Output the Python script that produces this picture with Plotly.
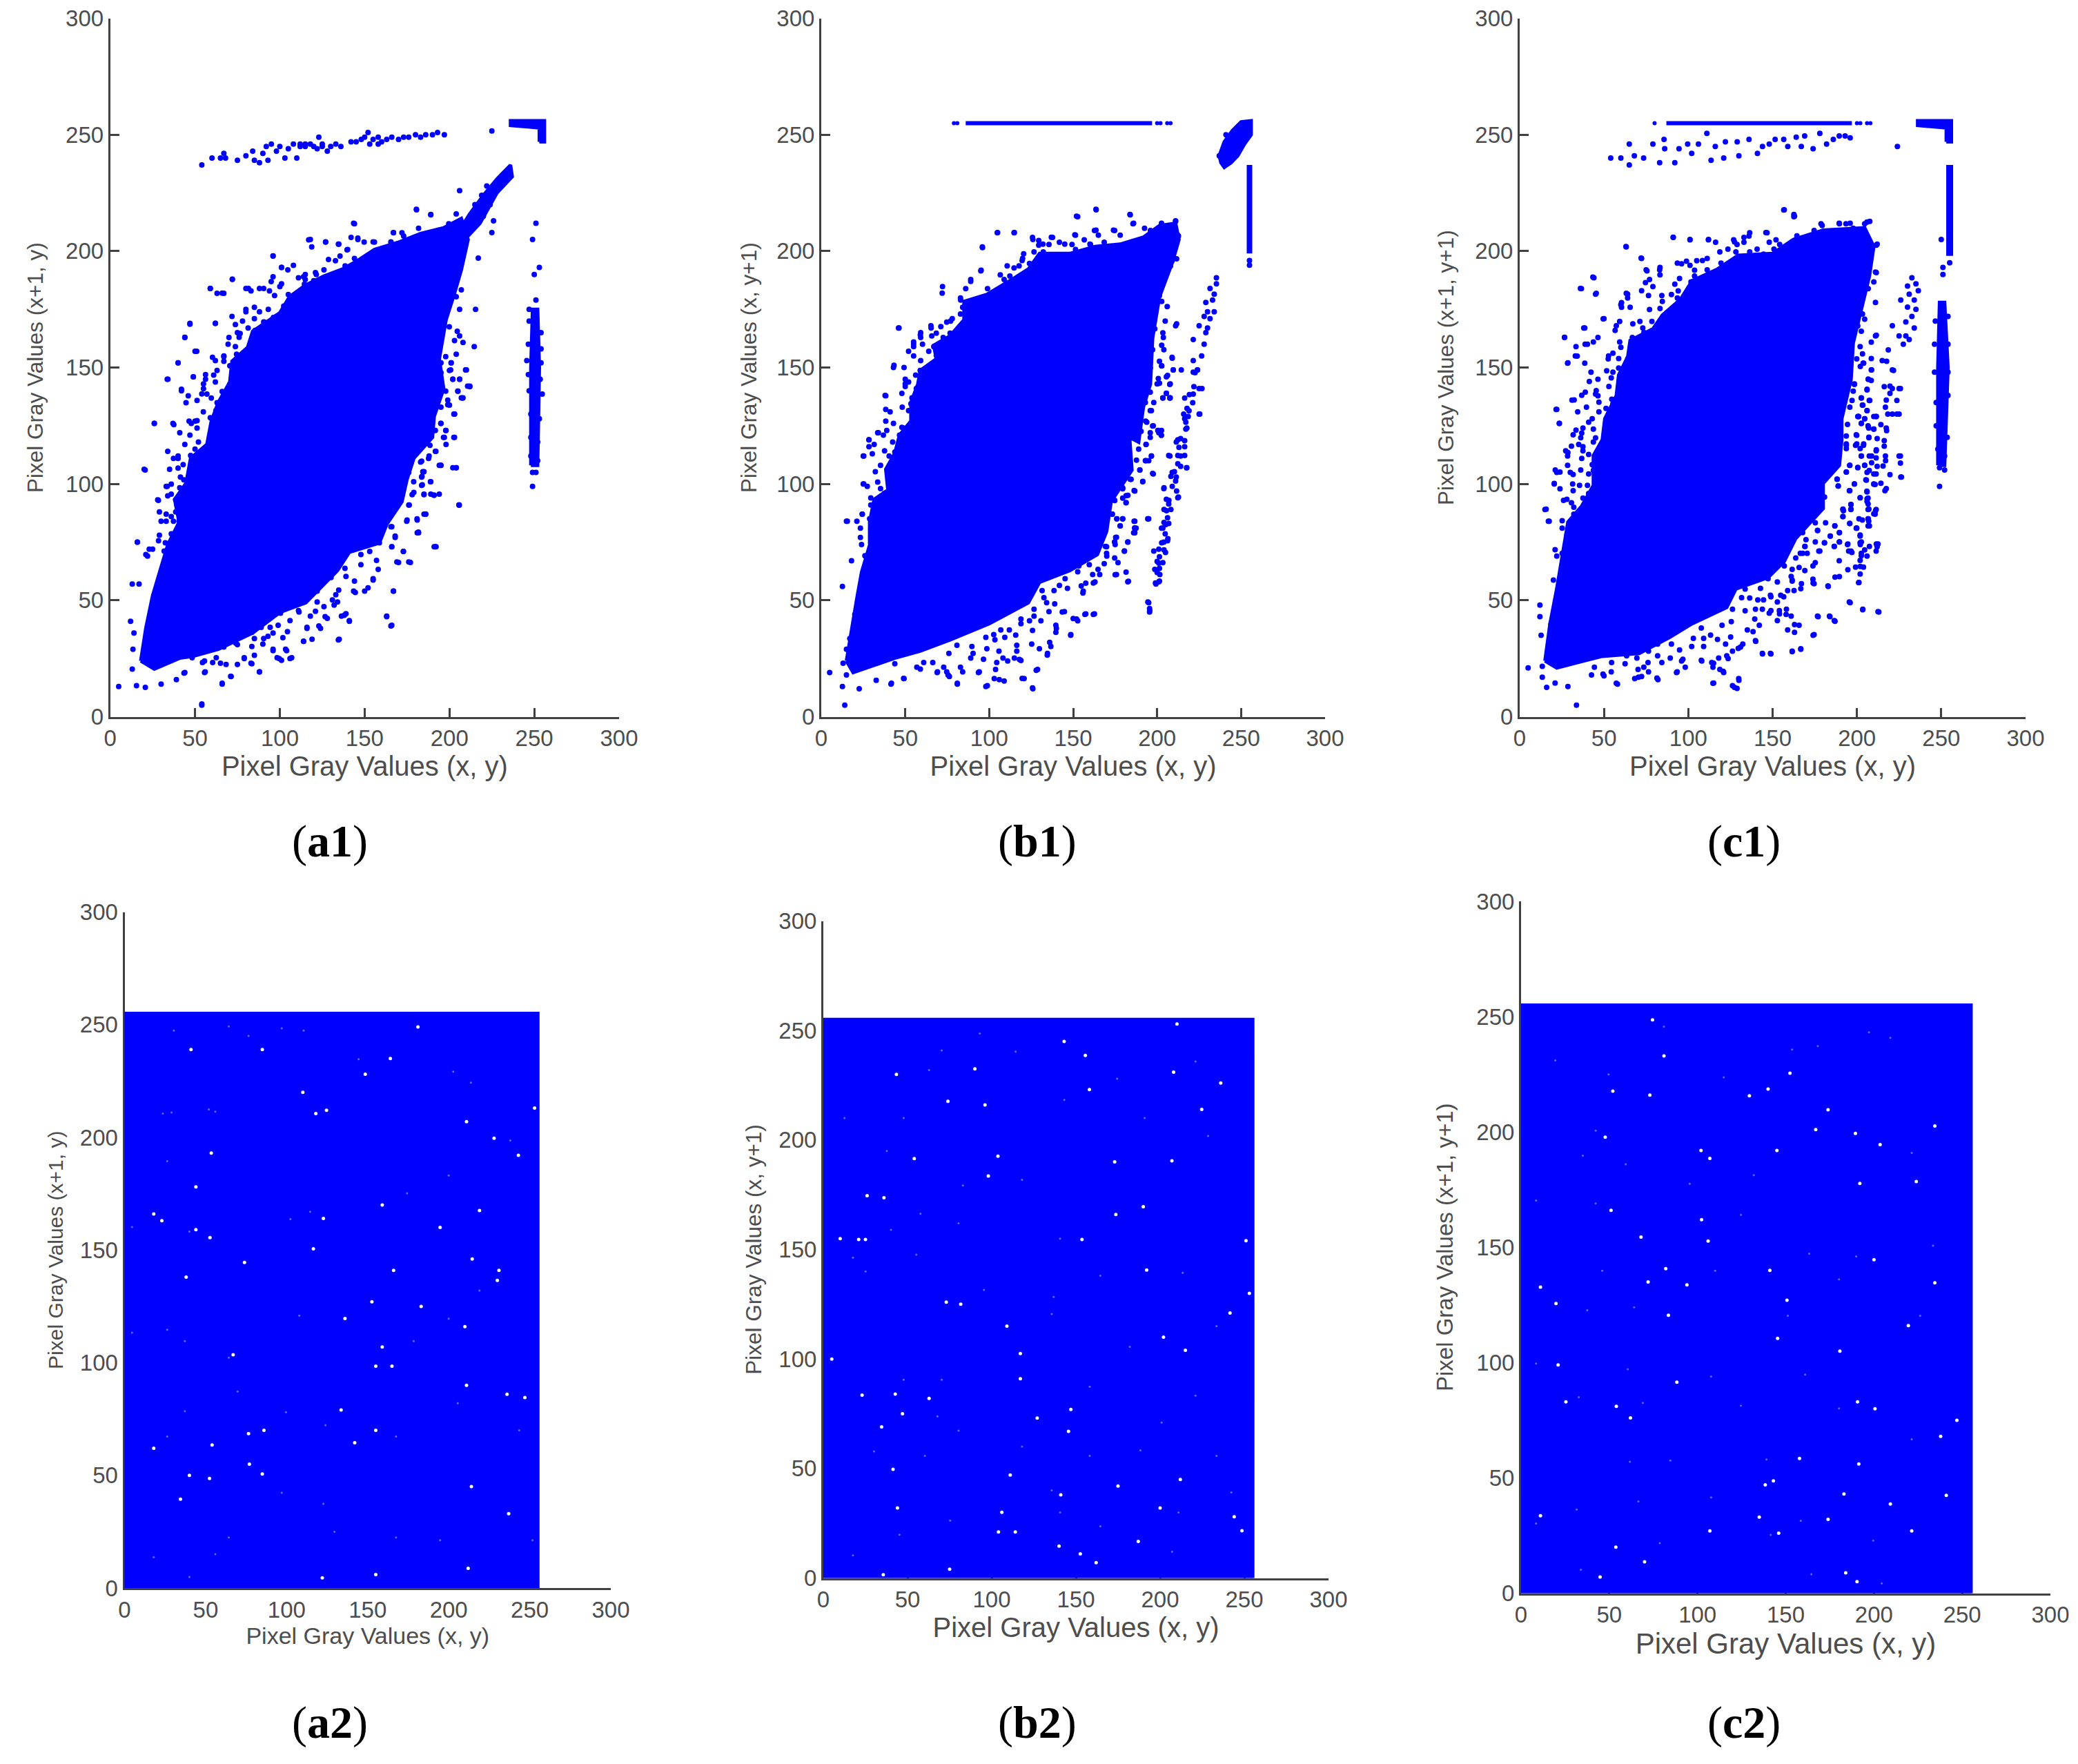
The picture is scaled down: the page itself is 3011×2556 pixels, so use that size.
import plotly.graph_objects as go

# ---------- tick labels ----------
tick_values = [0, 50, 100, 150, 200, 250, 300]
x_title = "Pixel Gray Values (x, y)"
y_titles = ["Pixel Gray Values (x+1, y)", "Pixel Gray Values (x, y+1)", "Pixel Gray Values (x+1, y+1)"]
panel_labels = ["a1", "b1", "c1", "a2", "b2", "c2"]

# ---------- (a1) horizontal correlation, plain image ----------
a1_cloud = [(18,24),(21,38),(25,52),(30,64),(34,74),(40.6,83.6),(38,93.4),(44.7,100.3),(47.4,111),(57,117),(59.6,127),(63.7,135),(70.5,143.8),(71.8,152.7),(81,158.7),(84,165.6),(92,169.5),(100,173.5),(105.7,180.4),(115,185.3),(126,189.3),(137,192.3),(146,196),(155.8,200.7),(170.7,204),(183,207.6),(196.5,210),(207,214),(211,205),(207,192),(203,182),(198,170.5),(194,153.7),(196.6,140.9),(191,129),(190,120),(179,111),(175,102),(172,92.4),(163,82.6),(158.7,74.7),(141,70.7),(134,62.8),(125,55.9),(115.3,49),(100.4,45),(84,36),(63.8,29),(49,26),(41,25.2),(26,20.5)]
a1_tail = [(205,208),(212,216),(220,224),(228,231),(236,237),(237,232),(228,225),(218,212),(209,205)]
a1_stack = [(248,108),(248,150),(249,175),(252,175),(253,150),(252,108)]
a1_corner = [(253,247),(253,253),(236,254),(236,256),(256,256),(256,247)]
a1_dots = [(5,13),(54,5),(13,57),(16,75),(12,41),(20.6,106),(26,126),(33.6,145),(40,152),(44,163),(47,168.6),(62,169),(59,184),
           (66,182),(72,188),(81.5,184),(96,198),(101,193),(114,189),(118,205),(127,204),(143.5,212),(146,205),(155,204),(180.5,218),
           (189,215.6),(167,208),(206,226),(225,251.6),(50,157),(42,140),(49,146),(55,143),(37.5,125.5),(50,127),(40,111),(33.6,99),
           (28.4,93),(30,84),(36,86),(23,72),(22,69),(17,57),(14,36),(13.4,29),(13,20.5),(15.5,13.4),(20.7,12.6),(30,14),(39,16),(44,19),
           (55.6,19),(66,14),(71,17.4),(88,19.3),(83,23),(99.6,25),(106,25),(134.5,33),(141,41),(138,43.6),(165.5,39),(163,43),(167,54),
           (143.5,54),(150,54),(155,58.7),(169,66.5),(176,66.5),(191,73),(205.6,91),(181,79),(185,87),(189,95.6),(202,107),(194,108),
           (212,142),(209.5,149),(214.6,159),(215.4,175),(217,197),(225,208),(226,213),(199,136),(203,130),(207,137),(198,117),(183.6,103),
           (194,95.6),(111,45.6),(116,38),(124,38),(126.7,43),(132,48),(96,36),(90.5,33.6),(75,31),(67,30),(85,33.6),(114,32.4),(103.4,29),
           (96,29),(79,25),(65,23),(55.6,24),(49,27.7),(90.5,169.6),(98,172),(101,186),(90.5,184),(111,188.6),(121.5,190),(134.5,203),
           (139.6,200.6),(150,196),(158,200.6),(165.5,204),(173,206.5),(80,174),(75,165),(67,155),(62,153),(57,138.6),(46.5,127),(44,117),
           (41.4,103),(36,95.6),(220,215),(210,212),(212,215),(222,228),(223,220),(215,220),(219,224),(213,212),(216,216),(224,220),(227,228),
           (251,212),(249,205),(253,193),(250,190),(247,175),(249,99),(251,179),(245.6,153),(246.5,147),(254.7,138.6),(254,152),
           (247,170),(254,165),(246.5,160),(254,158),(247,140),(253.5,145),(248,130),(253,128),(248,120),(252,118),(248,112),(252,110),(249,105),(251,105)]
a1_upper_fringe = [(180.6,217.8),(189,215.8),(204,216),(144,211.8),(199.6,211.8),(181.8,209.8),(194,209),(167,207.9),(172,207.9),(142,205.9),(146,205.6),(149.7,203.9),(155.8,203.9),(165.6,203.6),(173.4,204),(117,204.9),(127,203.9),(134.8,203),(118.8,201.8),(140,200.7),(160,200.7),(155.8,199.7),(152.4,197.7),(135.5,197.9),(96,197.9),(128.7,196.4),(132.8,195.9),(144,196.9),(108,193.9),(101,193),(104.7,192),(138.5,193.7),(126,192),(121,190.8),(115,190),(130.8,189.8),(136.9,190.8),(96,189),(72,187.9),(115,187.8),(120,187.3),(94.9,186.9),(100,184.8),(114.5,185.8),(80,184),(88,184),(59,184),(83,182.9),(63,181.9),(67,181.9),(93.9,182.9),(105,181.4),(96.9,180.9),(113.8,182.4),(121.3,185.3),(108.4,180.4),(102.3,176.4),(85,175.9),(80,175),(93.2,175),(88,174),(100.3,172.8),(71.8,172),(96.2,171.5),(85,171),(78,170),(107,171),(90.8,169.5),(47,169),(62,169),(73.8,168.5),(81.3,167),(85.4,166),(101,166),(76.6,164.6),(93.5,163.6),(44,162.9),(70,162.9),(76,163),(85.4,162.6),(82.6,160),(69.5,160),(73.8,159),(51,157),(60.3,154.4),(67,154.7),(74.5,155.7),(81.3,155.7),(86.7,154.7),(78.6,153.2),(40,152),(67,152.7),(70.5,150.8),(63,148.8),(78,148.8),(71.8,147.8),(56.2,147),(61,146.8),(49,146),(73,145.3),(34,145),(56.2,145),(78,144.3),(62,143.8),(70.5,142.9),(81.3,142.4),(42,140.7),(55,140.9),(66,139.7),(71.8,139.9),(80,140.4),(54,138.7),(46,137.9),(71.8,137.9),(51.2,135.9),(59.6,136.9),(44.7,134.9),(63,134.9),(67.8,135.9),(66.4,133),(54.9,131),(62.3,131.5),(59,128.5),(51.2,127.2),(26,126),(37,126),(47.8,126),(61,124.6),(51.2,124),(41,122),(47,121),(62.3,121),(59,118),(52,118),(50,115),(33.9,114),(62.3,114.7),(55.5,112.7),(40,112),(47.4,112.2),(37.3,111),(58.3,109.8),(49.5,109.2),(43,108.3),(20,106.3),(35,106.3),(40,106.8),(47.4,105.3),(54,106.3),(43.4,101.8),(50,102.3),(36,99.9),(33,99),(41,98.4),(50,98.4),(33.9,94.9),(43.4,94.9),(28,93.2),(38.6,93.2),(46,92.5),(39.3,91),(29,88),(38.6,88),(33,87),(33,84),(40.6,84),(37.3,84),(40.6,79),(36,78.6),(29,78),(16,75),(28.5,75.6),(32.5,74.7),(25,72),(21,69.7),(31.8,71.2),(38.6,72.7)]
a1_right_fringe = [(206,175),(203,184.4),(207,183.4),(204,180.4),(199.9,167.5),(204.6,165.6),(206,163.6),(208,160.8),(203,161.6),(204,155.7),(197.8,154.7),(195,152),(201,152),(200,148.8),(209.8,149),(195,147.8),(202,145),(206,145),(210.7,142),(197.8,139.9),(204.9,139.9),(208,137),(199,134),(195,133),(202.6,130),(195,126),(197.8,123),(191.7,123),(196.5,120),(202.6,120),(188.3,120),(191.7,114),(187.7,111),(194.9,108),(204,107),(183.6,109.8),(184.3,105.3),(176,105),(178.9,101),(188.8,101),(183.6,99.4),(185,95.6),(190.8,95.2),(178,95.4),(176,91),(205.7,91),(186,87),(180.9,85),(174.8,84),(166,81.6),(157,81.6),(181.8,79),(168,77),(157,76.6),(166,73),(191.7,73),(172.8,71),(153,71)]
a1_lower_fringe = [(205.8,91),(192.1,73),(204,107),(195,108),(203,120),(197,120),(186,87),(181.7,79.3),(181,84.5),(172.9,71),(177,66.3),(170,66.3),(166,73),(168,77.6),(157,67.2),(158,63.3),(155,59.3),(167,54),(152,55.4),(147.8,65.3),(144.5,53.4),(144,58.3),(139,60.3),(163,43.2),(166,39.3),(135,33.3),(139,44.3),(136.3,43.2),(141,41.3),(128,42.3),(134,49.3),(131,50.2),(126,47.3),(134.7,54.4),(133,52.4),(121,45.3),(122,49.3),(118,43.2),(116,38.4),(123,39),(106,41.3),(114,32.4),(119,33.3),(107,25.4),(104,28.4),(101,24.3),(96,28.4),(98.4,25.4),(104.5,36.6),(101.8,34),(94.3,38.4),(89,38.4),(99,39.3),(93,34.6),(90,31.2),(83.5,30.2),(85,26.4),(79,25.4),(83.5,22.8),(88,19.3),(75,22.5),(68.3,22.5),(71.3,17.3),(66,14.4),(56,19.3),(54,5.5),(43.5,18.8),(60.4,23.3),(54.4,23.3),(48.3,25.4),(62.5,25.4),(74,31.7),(67.2,31.2),(83.5,36.3),(93.6,45),(100.4,44.5),(111.3,45),(110,49),(122,54),(130.2,59.8),(127.5,65.8),(138.4,63.8),(147.8,69.7),(153.3,76.6),(158.7,74.7),(165.5,81.6),(175,84.5),(176.3,91),(185,95.4),(191,95.2),(179,96.4),(184,99.6),(189,101),(183.8,103.3),(185,105.3),(183,109.4),(192,114),(188,112),(188.5,116.6),(198,123),(194.9,126),(203,130),(200,133.9),(207.7,136.9),(205,139.9),(212,141.8),(206,145),(202,145),(210,149),(200.7,149),(201,152)]
a1_band = [(54,237),(60,240),(65,240),(67,242),(68,240),(75,239),(80,241),(84,243),(85,239),(88,238),(90,242),(92,245),(93,239),(95,246),
           (98,243),(100,245),(103,240),(105,244),(108,246),(110,240),(112,245),(115,246),(118,246),(120,245),(122,244),(123,249),(125,246),
           (128,243),(130,245),(133,246),(136,245),(142,247),(145,247),(148,248),(150,249),(152,251),(153,246),(155,248),(158,249),(160,247),
           (163,248),(166,249),(170,248),(173,249),(176,249),(180,250),(183,249),(186,250),(190,250),(193,251),(197,250),(115,245),(112,246),
           (125,245),(158,246)]

# ---------- (b1) vertical correlation, plain image ----------
b1_cloud = [(15,24),(18,38),(21,50),(24,62),(28.8,73.7),(28.8,83.6),(31.5,93.4),(39.7,97.4),(38.4,106.3),(43.8,113.2),(46.6,121),(53.4,127),(53.4,135),(57.5,142.9),(59,148.8),(68.5,153.7),(67,159.6),(76.7,163.6),(85,170.5),(85,178.4),(98.6,181.4),(112.3,187.3),(123.3,192.3),(130,199),(148,199),(163,202),(178,203),(191.8,206),(201.4,211),(211,212),(213,205),(209,195),(201.4,180.4),(197.3,162.6),(196,142.9),(191.8,133),(189,118),(183.6,120),(185,106),(172.6,92.4),(169.9,79.6),(164.4,69.7),(148,62.8),(130,57.8),(123.3,49),(100,40),(76.7,33),(58.9,28.2),(43.8,25.2),(19,19)]
b1_blob = [(237,241),(240,247),(245,252),(250,255.5),(256,256),(256,250),(252,246),(248,241),(244,238),(240,236),(238,238)]
b1_dots = [(5,19),(14,5),(12.6,56),(18,67),(15,84),(24.4,87),(25,100),(25,112),(28.4,119),(34,122),(38,138),(43,150),(46,167),(50,143),(55,160),
           (59,164),(65.4,167),(72,182),(77,170),(83,179),(89,187),(95,191.5),(96,201.5),(105,208),(115,208),(126,205),(132,203),(137,206),(152,215),
           (163.6,218),(151,207),(163.6,209),(174,209),(184,215.6),(186,212),(202.6,212),(211,213),(212.7,206.5),(209,196),(211,168),(209,154),(200,143),
           (207.6,137),(202.6,123),(201,122),(195,110),(195,85),(187.5,81),(186,79),(175,74),(170,69),(182.5,58),(175,61),(162,57.5),(156,54),(152,42),
           (162,44),(157,44),(148.5,35),(140,38),(143.5,45),(136,32),(134.6,26.5),(128,20),(126,12),(119.6,16.5),(118,24.6),(111,24),(106,16),(98,13),
           (93.6,19),(81,14),(75.5,18),(69,19),(59,20.5),(49,16.5),(41.5,14),(32.7,15.7),(22.6,12),(12.6,13),(15,18),(13,23),(17,33.6),(15,29),(20,44),
           (25,60),(30,75),(35,92),(44,109),(49,124),(56.6,141),(69,159),(87,167),(103,179),(119.6,196),(130,198),(145,203),(160,203),
           (241,250),(237,241),(255,196),(255,194)]
b1_upper_fringe = [(163.7,217.8),(152.7,214.8),(183.8,215.8),(185.6,211.8),(104.8,207.9),(114.8,207.9),(162.7,208.9),(174.7,208.9),(192.5,209.8),(151.4,206.9),(165,206.9),(125.8,205.9),(137.7,205.9),(178,206.9),(196,208.9),(129.5,204.6),(141.8,203.8),(156.6,204.9),(168.5,203.8),(95.9,201.8),(135.6,202.9),(149.3,202.9),(160.3,202.9),(129.5,202.6),(169.9,201),(151.4,200.7),(126.7,199.7),(132.2,199.7),(120.5,198.9),(142.9,197.9),(119.9,196.9),(137,196.9),(130.8,194.7),(124,194.7),(110.7,193.7),(117.8,193.7),(114.8,192.8),(135.6,192.8),(95.2,191.8),(124.7,191.8),(106.6,189.8),(112.3,189.3),(119.9,189.8),(89,187.8),(108.9,187.8),(121.9,187.8),(72.2,184.8),(86,183.9),(99,183.9),(109.6,184.5),(104,182.9),(116.4,185.3),(82.9,179.9),(94.5,179.9),(89.7,178.6),(98.6,178.4),(106.8,181.9),(84.2,175.9),(93,175.9),(82.9,173),(97.3,173.5),(78,171),(74.7,169.5),(87,171),(65.3,168),(46.3,167),(71.2,167.6),(89,167.6),(59.2,165),(68.5,164.8),(76.7,164.8),(84.2,165),(59.2,162.9),(65.8,163.6),(72.6,162.9),(80.8,163.1),(55,161),(60.3,160),(55,159),(74.7,160),(67,159),(52,157),(64,157),(78,157.7),(55,155),(68.5,155.2),(59.2,153),(80,153.7),(43.3,151),(49.3,150),(67,151.2),(72.6,152.2),(58.9,148.8),(56.2,146.8),(67,148.3),(50,145),(52,143.8),(58.9,143.8),(50,141.9),(58.9,139.9),(48,138.9),(38.4,137.9),(54,137),(62.3,137.9),(53.4,134.5),(58.9,135.4),(48.2,133),(67.8,133.5),(38.4,132),(41,131),(52,131.5),(63,132),(64.4,129.5),(38.4,127),(43,126),(56,127),(48,124.3),(54.8,124.6),(33.6,122),(39,123),(37,121),(46.6,121),(54.8,120.6),(28.4,119),(42.5,118),(31.5,117),(49.3,117),(28.4,116),(37.7,114.2),(43.8,113.7),(30.4,113),(25.3,112),(40.4,112),(49.3,112.2),(43.8,110.2),(35.3,108),(50.7,108.8),(46.6,107.3),(32.2,105.3),(40.4,105.8),(45.2,105.3),(40.4,103.3),(33.6,100.8),(25.3,100),(27.4,99),(45.9,100.8),(35.3,98),(37.7,96),(41,96),(44.5,98.4),(29.5,94),(33.6,93.4),(37,92),(29.5,91),(41,90),(24.4,87),(28.8,85),(35,88),(15.5,84),(21.2,84),(39.7,86),(23.3,81),(29.5,80.6),(33.6,78.6),(23.3,77),(29.5,77.6),(24,74),(33.6,75),(32.2,72),(26,69.2)]
b1_right_fringe = [(211,212.8),(212.3,206.9),(211.6,196.7),(208,193.7),(200.7,184.4),(201.4,180.9),(202.7,178.4),(206,176.2),(204.8,170),(211.6,168.8),(198.6,166.6),(203.4,164.9),(203.7,162.9),(194.5,162),(202.7,159.6),(204,157.7),(197.3,157.7),(208.9,154.4),(201.4,152.7),(202.7,150.8),(195.9,149.8),(209.6,149),(205.5,146),(200.7,145.3),(207.8,143),(201.4,143.3),(195.9,139.4),(205.5,139),(203.4,137),(207.8,137),(198,135),(193,135),(195.9,131.5),(193.8,126.5),(197.3,124.9),(200.7,123),(202.5,121),(190.4,122.6),(195.9,122),(193.4,117),(189,115),(196.6,112),(193,110),(187.7,110.2),(189.7,106),(197.3,104.5),(184,102),(191.4,101),(178,100.8),(179.5,98.4),(186.3,97.2),(181.5,95),(174.7,93),(181.5,92),(169.9,92.5),(173.3,87),(176,85),(179.5,85),(194.5,85),(186.3,84),(169.9,85),(178,82),(186.6,81),(186.6,79),(169,80),(175.3,77),(174.7,75),(182.5,75),(166.4,77),(169.9,73),(180.5,71.2),(169.9,70.2)]
b1_lower_fringe = [(125.8,12.4),(98.9,13.4),(81,14.4),(108.9,15.4),(103,16.4),(120.8,16.4),(49.3,16.4),(76.3,17.3),(128.8,20.3),(103.8,20.3),(94.1,19.3),(69.2,19.3),(84.2,19.3),(56.9,21.3),(74.7,19.3),(72.9,21.3),(82.9,21.3),(104.5,23.3),(118.9,24.2),(108.2,25.2),(115,25.2),(96.6,24.7),(89,25.2),(66.4,23.3),(61,23.3),(134.7,27.2),(129.9,29.2),(136.7,30.2),(125.3,31.2),(76,27.2),(90.4,27.2),(105.8,28.2),(116.4,28.2),(98.6,29.2),(89.7,30.2),(80.8,30.7),(116.4,30.7),(148.6,35.3),(139.7,36.3),(139.7,39.3),(125.8,37.1),(103.4,33.1),(109.3,34.1),(115.8,35.1),(106.9,37.3),(112,37.3),(102.7,35.3),(98,34.1),(152.7,41.2),(150,42.2),(157.5,44.2),(162.7,44.2),(144.8,45.2),(130.8,41.2),(124,41.2),(126.7,43.2),(118.9,42),(118.9,40),(126.7,46.2),(135.6,45.2),(139,48.5),(134.2,49),(132.6,51.2),(155.8,53.2),(138.6,54.2),(131.5,54.2),(146.6,55.2),(154.8,56.2),(157.5,57.4),(163,57.9),(141.8,56.4),(182.9,58.2),(145.2,59.3),(175.8,61.1),(181.5,62.1),(161.6,61.1),(165.8,61.1),(152.7,62.3),(164.8,63.3),(159.6,65.3),(153.4,64.8),(176.7,66.2),(174.7,68.2),(168.5,65.8),(158.5,68.2),(180.5,71.2),(169.2,73.2),(174.7,75.1),(182.6,75.1),(175.8,77.1),(186.7,79.1),(186.7,81.1),(186.7,84),(194.5,85),(179.5,85),(176,85),(173.3,87),(178,82),(181.5,91.9),(179.5,93.9),(174.7,92.9),(182.6,95.1),(186.7,97),(179.5,97.9),(191.5,101.1),(184.5,102),(197.7,104.3),(189.7,106),(193.4,110),(196.6,112),(193.4,117),(202.5,120.9),(200.4,123),(197.7,125),(195.9,120),(193.2,127),(196.6,131.5),(207.5,136.9),(203.4,136.9),(205.5,138.9),(207.5,142.8),(206.2,146.6),(209.6,149),(214.4,149),(202.7,150.7),(43.8,22.8),(41.8,14.4)]
b1_strip = [(195,49),(195.6,45.5),(199,57.5),(201,58),(200,62),(201,66),(201,72),(205,70.6),(204,75),(206.4,76.5),(202.6,81),(205,82.5),(205.6,88.5),
            (207,93),(204,98),(212.7,94.4),(209,99),(211.4,103),(209,105),(214,107.6),(217.7,107),(207.6,112),(214,112),(216.4,116),(214,119.5),(211.4,118),
            (217.7,124),(216.4,128),(219,131.4),(225,130),(221.5,138.6),(225,141),(221.5,148),(224,149),(221.5,153),(226.5,155),(221.5,162),(228,160),(225,168),
            (229,165),(228,172),(230,174),(229,178),(233,179),(231.5,184),(235.3,186),(235.3,188.6),(230,167),(231.5,171),(234,174),(234,181.5),
            (225.4,130),(226.7,141),(221.9,141.8),(224,149),(222.6,147.8),(219.2,138.4),(221.2,134.9),(216.4,136.9),(217.8,132.5),(215.8,130),(218.5,129),(217.1,126.5),(217.1,123.6),(212.3,119),(216.4,118.6),(213,115.7),(212.3,112.2),(206.9,112.2),(216.4,112.2),(212.3,108.7),(217.5,107),(210.3,105.3),(208.2,103.3),(211,101.3),(204.1,98.4),(211.6,97),(212.3,94.1),(205.5,93.4),(206.9,91.4),(204.1,89),(208.2,89),(206.2,85.5),(204.1,83.5),(206.9,83),(203.4,81),(204.8,78.6),(206.2,75.6),(202.7,74.7),(204.1,71.7),(198,71.2),(201.4,68.7),(203.4,66.2),(200,66.7),(201.4,63.8),(198.6,63.3),(201.6,61.1),(201.4,58.3),(199.3,57),(194.5,49.3),(195.5,46.5),(195.5,45)]
b1_top_line = [(86,255),(197,255)]
b1_top_dots = [(79,255),(81,255),(200,255),(202,255),(206,255),(208,255)]
b1_right_line = [(255,199),(255,237)]

# ---------- (c1) diagonal correlation, plain image ----------
c1_cloud = [(15,24),(18,40),(22,55),(26,73.7),(28.6,83.6),(36.8,90.5),(43.7,99.4),(43.7,112.2),(49,119),(50.5,128),(57.3,137.9),(58.7,146.8),(64.1,154.7),(65.5,161.6),(79,166.6),(84.6,172.5),(95.5,179.4),(102.3,187.3),(117.3,192.3),(129.6,198.2),(150,199),(162.3,205),(180,209),(204.6,210),(210,202),(207.4,189.3),(203.3,177.4),(197.8,160.6),(196.5,144.8),(191,128),(191,119),(189.6,108),(180,100.3),(180,89.5),(163.7,76.6),(156.9,66.7),(147.3,59.8),(128.2,54.9),(122.8,47),(102.3,40),(88.7,34),(70.9,27.2),(49,26),(22,21)]
c1_stack = [(248,108),(248,150),(249,178),(252,178),(254,150),(252,108)]
c1_corner = [(253,247),(253,253),(236,254),(236,256),(256,256),(256,247)]
c1_top_line = [(87,255),(197,255)]
c1_top_dots = [(80,255),(200,255),(202,255),(206,255),(208,255)]
c1_right_line = [(255,198),(255,237)]
c1_band = [(54,240),(60,240),(65,246),(65,237),(68,241),(73.5,240),(79,246),(83,238),(85.6,248),(86,244),(92,238),(94.5,244),(99.6,246),(102,242),(106,246),
           (111,250.6),(113.5,239),(116,245),(121,240),(122,247),(129,247),(130,241),(136,248),(141,242),(144,245),(148,246),(151.5,248),(156.6,248),(159,245),
           (164,249),(167,245),(169,249.5),(174,244),(178,250.6),(182,246),(186,248),(189.5,249.5),(193,249.5),(196,248.7),(224,245)]
c1_blob = [(232.6,188.6),(235,186),(230,185),(236.4,183),(231,181.5),(226,179),(234,179),(230,176),(235,175),(232.6,172),(229,169.6),(221,168),(234,167),
           (225,163.6),(229,163.6),(231,162),(227.5,160)]
c1_dots = [(218.6,157.6),(211,163.6),(215,153),(221,149),(202,150.5),(208.5,144.5),(221,141),(225,141),(217.4,136),(221,130),(225,130),(210,129),(217.4,124),
           (201,129),(207,124),(212,119.5),(225,112),(226,103),(217,110),(212,107.6),(206,105),(217.4,98),(210,100),(206,93.6),(211,88.5),(199.6,81),(207,84),(202,74),
           (212,73),(197,70.6),(206,69),(202,64.6),(201,57.6),(196,49),(203.4,46),(213,45),(192,88.5),(187,60),(189.5,67),
           (33.7,5),(5,21),(16,12.6),(28.6,13),(21,14.5),(13.4,17),(13.4,21.7),(58,14),(42.6,18),(50,17.6),(70.4,17),(82,16),(93,19),(96,24),(115,14.5),(127.4,12.6),
           (130,15.7),(121,19),(115,23),(108,24),(123.6,25),(131,30),(140,32.4),(144,27),(149,27),(161.6,28),(166.7,29),(174,35),(163,39.6),(177,43),(184,43),(187,41),
           (158,44),(154,45.6),(149,45.6),(156.6,51.5),(166.7,55),(174,57.5),(183,56),(161.6,58.7),(149,51.5),
           (12,48),(12,43),(12.7,35),(18.5,39.6),(20,58.7),(21,71.8),(17,84),(15,89),(20.5,100),(22,105),(28.6,113.5),(22,132),(23.5,126),(31,136),(28.6,152),(26.6,163),
           (33,155),(38.8,160),(36,184),(44,188.6),(45,181.5),(38,167),(50,171),(63,202),(64,181.5),(60,177),(72,197),(75.5,191.5),(83,192),(91,206),(101,205),(112,205),
           (96,194.6),(108.4,196),(127.4,204),(136,206.5),(146,208),(156.6,217.7),(163,215),(179.4,211),(189.5,212),(196,212),(206,212.5),(212,203),(211,191),(211,178),
           (52.7,155),(45,138.6),(37.5,124),(35,117),(30,105),(26,93),(30,84),(22,69),(249,99),(251,190),(251,193),(252,106),(250,205),(255,195),
           (246.5,170),(254,172),(246,160),(254,160),(246,148),(254,148),(247,135),(254,138),(247,125),(253.5,120),(248,115),(252,112),(249,107)]
c1_upper_fringe = [(156.9,217.8),(162.6,215.8),(162.6,214.8),(207.6,212.8),(178.7,211.8),(189.6,211.8),(193.5,211.8),(204.6,211.8),(174.6,208.9),(197.8,209.8),(146.7,207.9),(136.4,207.9),(91.1,205.9),(101,204.9),(111.9,204.9),(116.2,203.8),(126.9,204.9),(133,205.9),(164.4,206.6),(152,204.9),(148,203.8),(154.2,202.9),(133,203.8),(161,203.6),(128.9,202.9),(63.2,201.8),(140.8,200.9),(150.8,200.9),(123.5,200.9),(118.7,199.7),(128.2,199.7),(136.4,199.7),(144.6,198.7),(155.5,199.7),(72.3,196.9),(111.2,196.9),(128.2,196.9),(105,195.9),(98.9,195.7),(93.5,194.9),(119.4,194.9),(143.2,195.7),(132.3,195.7),(101,193.9),(83.2,193),(121.4,193.7),(75,192),(103.7,191.8),(111.2,192),(83.2,189.8),(43.4,188.9),(94.8,188.3),(103.7,189.3),(111.9,189.8),(77,187.8),(101.6,186.8),(74.6,186.5),(92,185.8),(79,184.8),(36.6,183.9),(72.3,183),(100.3,183.9),(94,182.9),(45.4,181.9),(63.2,181.9),(107.8,183.9),(76.4,180.9),(84.3,180.9),(90,181.4),(64,179.9),(93.5,179.9),(60.4,177.9),(84.6,178.4),(101.6,179.4),(60.4,175.9),(65.5,175.9),(83.2,175.4),(77,174.9),(94.1,176.4),(87.3,173.5),(96.9,174),(49.5,170.9),(59.3,169.8),(71.3,169.8),(78.4,169.8),(67.1,168.8),(57.3,168),(38.6,167),(73,167),(56.6,166),(73.7,165.1),(78.4,165.1),(26.6,162.9),(46.4,162.9),(66.8,162.9),(59.3,161),(74.4,162.9),(43.7,161),(40.2,160),(60,158.7),(33.4,159),(68.2,158.7),(82.5,159.6),(75,158.7),(65.5,157),(34.1,154.9),(55.3,156.2),(70.3,156.2),(52.5,153.7),(58.7,153.9),(64.1,153.7),(28.4,151.9),(38.6,151.9),(58.7,149.8),(73.7,152.7),(51.6,148.6),(55.3,148),(42.3,148),(64.1,149.3),(54.3,145.6),(46.4,145),(41.3,144),(60,145.3),(52.9,141.9),(58.7,141.4),(45.4,140.1),(38.9,139.4),(36.8,138.1),(46.4,137.9),(32.3,136.1),(47,135.1),(54.6,136.4),(59.3,134.9),(55.3,134.5),(39.6,133),(51.2,132.5),(21.6,132),(34.4,131),(47,131),(58.7,130.5),(53.2,128.5),(43,128),(23.5,126),(40.9,126.5),(51.2,126.5),(43.7,123.6),(33.4,123.1),(58.7,126.5),(36.8,121.9),(31.7,121.1),(50.5,122.1),(36.2,119.9),(45,119.8),(43.7,118),(51.2,118),(30.7,116.2),(37.5,116),(48.4,115.7),(27.3,114.2),(37.5,114.2),(46.4,113.7),(28.4,112),(40.9,112.7),(36.8,111),(45,110.2),(28.4,108),(43,108.3),(21.1,106),(36.2,106),(23.9,105.1),(43.7,105.8),(31.7,104.1),(40.9,104.3),(20.5,100.2),(31.4,100),(35.5,99.4),(23.9,97.9),(40.2,99.4),(31.7,97.1),(40.9,95.9),(28,93.4),(37.5,93.9),(30.7,91.9),(42.3,92.9),(15.7,89.2),(32.1,90),(39.6,88.5),(32.1,87),(17.5,84),(25.2,84.2),(30.7,84.6),(38.2,85),(25.2,81),(33.4,82),(28,78),(36.2,79.1),(43.7,79.1),(28.6,74.7),(40.2,74.7),(25.2,70.2),(32,70.2),(38.9,69.2)]
c1_right_fringe = [(211.5,202.6),(211.5,190.8),(210,186.8),(206.7,183.9),(201.9,182.4),(203.3,173),(204.6,170.8),(197.8,170.8),(200.5,167.9),(202.6,165.6),(211.5,163.9),(208.5,160.9),(201.9,159),(203.3,155.9),(199.9,153.7),(208.5,153.9),(204,151.9),(208.5,149),(206.7,145),(198.5,143),(206,140.4),(197.8,139.9),(202.6,137),(207.6,135.9),(197.1,135.9),(203.5,133.9),(195.8,133),(206,131.5),(200.5,129),(204.6,128),(211.5,129),(202.6,126),(194.4,125.6),(206.7,124.6),(210,123.6),(199.6,121.1),(207.1,120.1),(193.7,120.6),(193.7,117.2),(199.9,117.2),(204,117.2),(201.9,115.2),(193.7,115.2),(211.5,114.7),(202.6,112),(208.7,112),(188.9,111.2),(195.8,108),(200.5,107.1),(204.6,108),(208.7,109.1),(193.7,105.1),(210,104.3),(188.3,102),(205.6,101.6),(188.9,99.1),(198.5,100),(210,99.9),(195.8,97.1),(206,96.6),(180.8,94.4),(201.9,94.1),(206,92.5),(196.5,91.2),(191.7,89.2),(196.5,89.2),(207.1,89.2),(210,87.2),(191.7,86),(201.2,85),(206.7,85),(195.8,83),(186.9,82),(199.9,81),(207.4,82),(176.7,80),(189.6,79.1),(184.2,77.6),(201.9,77.6),(167.8,79.1),(189.6,75.1),(180.8,74.7),(194.4,74),(201.9,74.7),(211.5,74.2),(169.2,73.2),(186.5,73.2),(207.4,73.2),(177.4,71.2),(196.5,71.2),(167.8,70.2),(202.6,70.2)]
c1_lower_fringe = [(128.9,12.2),(126.2,13.4),(114.6,14.4),(57.3,14.4),(129.9,16.4),(81.4,16.6),(68.2,16.4),(72.3,17.3),(49.4,18.3),(54.3,19.3),(93.4,19.3),(76.4,19.3),(120.7,19.5),(118.7,20.3),(70.2,20.3),(114.6,21.3),(98.2,21.3),(44.3,21.3),(73.6,21.3),(113.9,23.3),(84.3,23.3),(54.5,23.3),(62.5,22.8),(76.1,23.3),(107.7,24.3),(118,25.2),(89.3,25.2),(122.8,26.2),(81.8,26.2),(96.8,24.7),(63.4,26.2),(143.9,27.2),(148.7,27.2),(161.6,28.2),(166.7,29.2),(126.2,28.2),(69.5,25.2),(94.8,28.7),(129.6,29.4),(76.4,28.2),(102,30.2),(109.1,30.2),(132.3,31.2),(122.1,31.2),(139.8,32.7),(66.8,30.4),(81.8,31.2),(90,31.2),(125.1,34.3),(117.3,33.2),(109.1,33.7),(113.2,35.1),(103,33.7),(174.6,35.3),(163,36.3),(158.9,37.3),(138.4,36.6),(135,37.3),(165.7,39.3),(142.1,39.3),(107.7,38.1),(120,39.3),(125.5,40.9),(186.6,41.3),(152.8,41.3),(139.4,42),(183.7,43.2),(176.6,43.2),(161,43.2),(154.1,44.2),(158.2,46.2),(148,44.5),(139.8,46.2),(143.9,46.2),(212.5,45.2),(203.5,46.2),(195.5,49.3),(133.7,45.5),(126.2,46.2),(152.8,49.3),(144.6,50.2),(141.2,50.2),(148.7,52.2),(154.8,52.2),(136.4,51),(131.6,51.2),(162.7,54.2),(158.9,54.2),(142.8,55.2),(133.7,54.9),(182.8,56.2),(174.6,57.2),(167.1,57.2),(201.2,57.7),(173.9,59.1),(152.8,57.9),(161,60.3),(189.6,60.2),(161.6,58.3),(147.3,59.3),(194.6,63.2),(201.9,61.3),(169.1,62.8),(165.7,64.1),(161.6,63.3),(199.2,64.3),(203.9,64.3),(173.9,64.8),(156.9,64.8),(175.3,66.2),(201.9,67.2),(202.6,69.2),(163.7,68.2),(170.5,70.2),(166.4,70.2),(178,71.2),(195.1,71.2),(211.4,71.2),(204.6,71.7),(169.1,73.2),(186.6,73.2),(212.5,74.2),(194.6,74.2),(180.7,74.7),(189.6,75.1),(202.6,75.1),(175.3,75.1),(169.8,76.1),(184.2,77.6),(201.9,78.1),(189.6,79.1),(176.6,80.1),(206.6,82),(199.8,81),(186.9,82),(167.1,79.6),(195.7,83),(181.4,83.3),(175.3,83.3),(203.2,84.5),(191.7,86),(210.8,87),(206.6,85),(191.7,89),(196.4,89),(206.6,89),(211.4,89),(196.4,91.2),(206.6,91.4),(201.9,94.1),(206.6,93.9),(205.9,96.9),(195.5,97.1),(216.6,97.1),(198.5,100),(210.8,99.8),(188.9,99.1),(214.2,100.3),(205.3,101.8),(226.4,103),(219.6,104),(188.2,102.1),(193.7,105.1),(211.4,104.3),(207.3,105.8),(200.5,107),(195.7,108),(204.6,108),(215.5,107.7),(225.8,109),(225.8,112),(216.9,112),(211.4,111.2),(202.6,112),(207.3,112),(211.4,114.2),(216.2,116.2),(199.2,116.6),(203.9,116.6),(193.7,116.6),(216.2,118.6),(199.9,120.9),(207.1,119.9),(217.6,122.9),(210,123.6),(206.6,125),(202.6,126),(214.2,125.5),(200.8,129),(204.6,128),(211.4,129),(223.7,130),(218.3,130),(206,131.5),(203.2,133.9),(216.9,133),(223.7,135.9),(207.3,135.9),(202.6,136.9),(219.6,138.9),(198.5,142.8),(206.7,145),(206,140.7),(216.2,141.8),(225.8,141),(219.6,142),(221.7,148.8),(208.7,149),(203.7,151.9),(217.6,152.7)]

# ---------- (a2, b2, c2) encrypted image: value extent of the full square ----------
full_extent_x = [0, 255, 255, 0]
full_extent_y = [0, 0, 255, 255]

# holes left in the filled square
a2_holes = [(85,239),(148.5,228),(124.6,212),(118,210.6),(110,220),(164,235),(41,239),(53.5,193),(228,199.6),(243,192),(44,178),(18,166),(23,163),(52.7,155.5),
            (44,159),(116.5,150.5),(166,141),(214.5,146),(74,144.5),(38,138),(159,107),(155,98.5),(211,90),(236,86),(247,84.5),(133.6,79),(155,70),(142,64.5),(86,70),
            (76.5,68.5),(77,55),(18,62),(54,63.5),(40,50),(52.4,48.6),(85,50.6),(34.5,39.4),(155,6),(122,4.5),(212,8.7),(237,33),(214,45),(230,136.5),(231,141),(210,116),
            (183,125),(152.6,127),(136,119.6),(67,103.5),(165,98.5),(219,167.5),(194.7,160),(159,170),(122.7,164),(211,207),(181,249),(253,213)]
b2_holes = [(43.4,230),(90,232.5),(74,217.7),(96,216),(103.7,192.6),(98,183.6),(54,191.5),(26,174.6),(36,173.6),(21,154.6),(25,154.6),(10,155),(153.6,154.6),(251,154),
            (190,169.5),(173.7,166),(173,190),(207,190.5),(210,253),(143,245),(155.6,238.6),(208,231),(236,226),(224.7,214),(158,223),(73,126),(81.6,125),(109,115),(117,102.5),
            (202,110),(215,104),(241.5,121),(253,130),(192,140.6),(5,100),(23,83.5),(42.7,84),(62.8,82),(47,75),(34.6,69),(147,77),(127,73),(145.6,67),(111,47),(141,38),(175,42),
            (41.4,49.6),(44,32),(106,30),(104,21),(114,21),(187,16.7),(140,14.6),(152.6,11),(162,7),(75,4),(35.6,1.5),(244,28),(248.6,21.6),(200,32),(212,45),(117,91)]
c2_holes = [(74.5,248.6),(81,233),(73,216),(52,217.7),(47.7,197.7),(102,192),(107,188.5),(145,192),(167,201),(174,209.6),(189.5,199.4),(203.5,194.5),(234.5,202.6),(192,177.7),
            (224,178.5),(152.4,225.5),(140,218.6),(129.4,215.7),(102.3,162),(106,152.7),(68,154.4),(51,166),(141,140),(82,140.7),(72,135),(94,133.7),(19.8,125.6),(11,132.7),(150.7,127),
            (200,144.6),(234.5,134.6),(83.5,120.5),(219.5,116),(145.4,110.5),(180.7,105),(21,99),(88.3,91.5),(190.7,83),(200.6,80),(54,81),(25.4,83),(62,76),(247,75),(237.8,68),
            (157.8,58.4),(191.4,56),(138.4,47),(143,48.7),(183,43),(209.3,38.7),(241,42.4),(174,32),(135,33),(146,26),(221.4,27),(53.7,20),(70,13.6),(44.8,7),(190.4,5),(184,8.8),(11,33.6),(107,27)]
# fainter, partly closed holes
a2_faint = [(23.6,210.6),(29,211),(52,212.4),(56,211.4),(30.4,247.4),(64.3,249.2),(76.5,245),(97,248.4),(110.5,247.4),(144.4,234.7),(202.8,229.2),(213.7,224.3),(238,198.6),(4.6,160.2),(40,158.2),(102.3,163.7),(114.5,167),(174.3,175.2),(200,183.1),(26.3,189.4),(4.6,113.3),(26.3,114.6),(37.2,109.6),(64.3,102.2),(107.8,120.9),(178.4,109.6),(200,119.5),(219,132),(26.3,67.2),(37.2,78.5),(69.8,87.2),(99.6,78),(124,72.3),(167.5,67.2),(205.6,82),(243.5,70),(18,13.7),(56,15),(64.3,22.4),(129.5,25),(167.5,22.4),(194.7,21.2),(251.7,21.2),(97,42.3),(122.7,37.4),(40,4.9)]
b2_faint = [(92.9,248.6),(70.3,240.9),(114.2,240.4),(62.8,231.9),(221,235.9),(174.5,228),(143.1,218.3),(47.7,210),(12.6,210),(37.7,195),(228.5,201.8),(190.8,210),(82.9,179.2),(118,181.8),(57.7,166.3),(80.3,162),(40.2,159),(140.6,155),(17.6,146.3),(55.2,147.6),(164.5,138),(213.4,139.4),(25.1,140),(95.4,131.6),(136.8,128.3),(135.6,120.5),(233.5,115),(182,105.6),(70.3,90.5),(47.7,90.5),(158.2,87.4),(221,83.3),(67.8,73.8),(200.9,71),(80.3,67.3),(118,60),(188.3,58.3),(30.1,57.8),(60.3,55.8),(158.2,55.8),(233.5,55.8),(135.6,40),(242.3,39.1),(75.3,26.2),(140.6,29.9),(210.9,29.9),(164.5,23.6),(45.2,19.8),(207.1,12),(17.6,10.3)]
c2_faint = [(19.4,231),(49.6,225),(81,245.7),(114.9,223.7),(209.3,240.8),(168.2,237.2),(197.2,243.2),(153.6,235.7),(35,189.7),(59.3,186),(95.6,177.5),(131.9,181.3),(221.4,190.9),(42.3,200.6),(8.5,170.3),(42.3,169),(124.6,164.1),(163.3,147.2),(189.9,146),(233.5,150.7),(46,139.8),(110,139.8),(180.2,136.1),(37.5,122.7),(64.1,124),(151.2,120.3),(226.2,120.3),(8.5,99.6),(60.5,97.1),(107.7,94),(161,94.8),(32.7,85),(69,82.5),(124.6,81.3),(180.2,80.1),(61.7,57),(84.6,57.5),(139.1,58),(221.4,66.7),(8.5,30.2),(31.5,36.3),(66.5,39.8),(107.7,41.5),(158.5,31.4),(199.6,22.8),(78.6,21.7),(141.5,25.3),(33.9,10.2),(164.5,8.2),(204.4,4.3)]

# ---------- look ----------
BLUE = "#0000ff"
AXIS = "#404040"
TXT = "#4d4d4d"
W, H = 3011, 2556
PAGE = 8  # the page's own body margin, in px
# plot boxes: left, right, top, bottom in px of the window
boxes = [(159.7, 897, 26.6, 1038.6), (1190, 1920, 26.6, 1038.6), (2202, 2935, 26.6, 1038.6),
         (180.5, 885, 1321.5, 2301), (1193, 1925, 1334.5, 2286.5), (2204, 2971, 1306, 2308.5)]
label_pos = [(478, 1219), (1503, 1219), (2527, 1219), (478, 2496), (1503, 2496), (2527, 2496)]
x_title_sizes = [40, 40, 40, 34, 40, 42]
y_title_sizes = [31.5, 31.5, 31.5, 30, 31.5, 33]
x_standoffs = [6, 6, 6, 6, 0, 2]
y_standoffs = [24, 20, 22, 16, 16, 24]

fig = go.Figure()


def split(pairs):
    return [p[0] for p in pairs], [p[1] for p in pairs]


def poly(i, pairs):
    x, y = split(pairs)
    fig.add_trace(go.Scatter(x=x + x[:1], y=y + y[:1], mode="lines", fill="toself", fillcolor=BLUE,
                             line=dict(color=BLUE, width=5), cliponaxis=False, hoverinfo="skip", showlegend=False,
                             xaxis=f"x{i+1}", yaxis=f"y{i+1}"))


def dots(i, pairs, color=BLUE, size=8):
    x, y = split(pairs)
    fig.add_trace(go.Scatter(x=x, y=y, mode="markers", marker=dict(color=color, size=size, line=dict(width=0)),
                             cliponaxis=False, showlegend=False, xaxis=f"x{i+1}", yaxis=f"y{i+1}"))


def segment(i, pairs, width):
    x, y = split(pairs)
    fig.add_trace(go.Scatter(x=x, y=y, mode="lines", line=dict(color=BLUE, width=width), cliponaxis=False,
                             showlegend=False, xaxis=f"x{i+1}", yaxis=f"y{i+1}"))


# a1
poly(0, a1_cloud); poly(0, a1_tail); poly(0, a1_stack); poly(0, a1_corner)
for s in (a1_dots, a1_band, a1_upper_fringe, a1_right_fringe, a1_lower_fringe):
    dots(0, s)
# b1
poly(1, b1_cloud); poly(1, b1_blob)
for s in (b1_dots, b1_strip, b1_upper_fringe, b1_right_fringe, b1_lower_fringe):
    dots(1, s)
dots(1, b1_top_dots, size=6)
segment(1, b1_top_line, 6); segment(1, b1_right_line, 8)
# c1
poly(2, c1_cloud); poly(2, c1_stack); poly(2, c1_corner)
for s in (c1_dots, c1_band, c1_blob, c1_upper_fringe, c1_right_fringe, c1_lower_fringe):
    dots(2, s)
dots(2, c1_top_dots, size=6)
segment(2, c1_top_line, 6); segment(2, c1_right_line, 10)
# lower row
for i, holes, faint in zip((3, 4, 5), (a2_holes, b2_holes, c2_holes), (a2_faint, b2_faint, c2_faint)):
    poly(i, list(zip(full_extent_x, full_extent_y)))
    dots(i, faint, color="#6a6aff", size=3)
    dots(i, holes, color="#ffffff", size=5)

axis_style = dict(range=[0, 300], tickmode="array", tickvals=tick_values, ticktext=[str(v) for v in tick_values],
                  showgrid=False, zeroline=False, showline=True, linecolor=AXIS, linewidth=3, automargin=False,
                  ticks="inside", ticklen=13, tickwidth=3, tickcolor=AXIS, layer="below traces",
                  tickfont=dict(family="Liberation Sans", size=33, color=TXT))

layout = dict(width=W, height=H, margin=dict(l=0, r=0, t=0, b=0, autoexpand=False), paper_bgcolor="white", plot_bgcolor="white", showlegend=False)
annotations = []
for i, (l, r, t, b) in enumerate(boxes):
    layout[f"xaxis{i+1}"] = dict(axis_style, domain=[(l - PAGE) / W, (r - PAGE) / W], anchor=f"y{i+1}",
                                 title=dict(text=x_title, standoff=x_standoffs[i], font=dict(family="Liberation Sans", size=x_title_sizes[i], color=TXT)))
    layout[f"yaxis{i+1}"] = dict(axis_style, domain=[1 - (b - PAGE) / H, 1 - (t - PAGE) / H], anchor=f"x{i+1}",
                                 title=dict(text=y_titles[i % 3], standoff=y_standoffs[i], font=dict(family="Liberation Sans", size=y_title_sizes[i], color=TXT)))
    lx, ly = label_pos[i]
    annotations.append(dict(text=f"(<b>{panel_labels[i]}</b>)", x=(lx - PAGE) / W, y=1 - (ly - PAGE) / H, xref="paper", yref="paper",
                            xanchor="center", yanchor="middle", showarrow=False,
                            font=dict(family="Liberation Serif", size=66, color="black")))
layout["annotations"] = annotations
fig.update_layout(**layout)
fig.write_html("out.html")
